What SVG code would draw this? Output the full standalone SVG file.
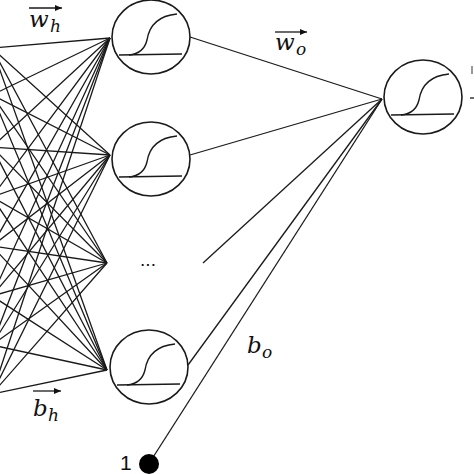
<svg xmlns="http://www.w3.org/2000/svg" width="474" height="474" viewBox="0 0 474 474">
<style>
.ln{stroke:#1a1a1a;stroke-width:1.3;fill:none}
.nd{stroke:#1a1a1a;stroke-width:1.6;fill:#fff}
.sg{stroke:#1a1a1a;stroke-width:1.4;fill:none}
.lb{font-family:"DejaVu Serif","Liberation Serif",serif;font-style:italic;fill:#111}
</style>
<defs>
<marker id="ah" markerWidth="8" markerHeight="8" refX="7" refY="4" orient="auto" markerUnits="userSpaceOnUse">
<path d="M0,1 L7,4 L0,7 Z" fill="#111"/>
</marker>
<g id="sig">
<path class="sg" d="M-32,18 L31,17"/>
<path class="sg" d="M-22,18 C-11,17 -6,11 -4,3 C-2,-10 5,-21 26,-23"/>
</g>
</defs>
<rect width="474" height="474" fill="#fff"/>
<g id="connectors">
<g class="ln">
<path d="M-8,48 L110,38 M-8,48 L110,155 M-8,48 L107,263 M-8,48 L107,370"/>
<path d="M-8,95 L110,38 M-8,95 L110,155 M-8,95 L107,263 M-8,95 L107,370"/>
<path d="M-8,147 L110,38 M-8,147 L110,155 M-8,147 L107,263 M-8,147 L107,370"/>
<path d="M-8,197 L110,38 M-8,197 L110,155 M-8,197 L107,263 M-8,197 L107,370"/>
<path d="M-8,246 L110,38 M-8,246 L110,155 M-8,246 L107,263 M-8,246 L107,370"/>
<path d="M-8,296 L110,38 M-8,296 L110,155 M-8,296 L107,263 M-8,296 L107,370"/>
<path d="M-8,345 L110,38 M-8,345 L110,155 M-8,345 L107,263 M-8,345 L107,370"/>
<path d="M-8,394 L110,38 M-8,394 L110,155 M-8,394 L107,263 M-8,394 L107,370"/>
</g>
<path class="ln" d="M190,37 L382,99"/>
<path class="ln" d="M190,155 L382,99"/>
<path class="ln" d="M203,263 L382,99"/>
<path class="ln" d="M188,365 L382,99"/>
<path class="ln" d="M150,462 L382,99"/>
<path class="ln" d="M470,98 L474,98"/>
<path d="M472,66 L472,74" stroke="#999" stroke-width="2"/>
</g>
<g id="hidden1"><ellipse class="nd" cx="151" cy="37" rx="39" ry="37"/><use href="#sig" x="151" y="37"/></g>
<g id="hidden2"><ellipse class="nd" cx="151" cy="159" rx="39" ry="37"/><use href="#sig" x="151" y="159"/></g>
<g id="hidden3"><text x="148" y="266" font-family="Liberation Sans,Arial,sans-serif" font-size="19" text-anchor="middle" fill="#111">...</text></g>
<g id="hidden4"><ellipse class="nd" cx="149" cy="367" rx="39" ry="37"/><use href="#sig" x="149" y="367"/></g>
<g id="output"><ellipse class="nd" cx="423" cy="97" rx="39" ry="37"/><use href="#sig" x="423" y="97"/></g>
<g id="bias">
<circle cx="149" cy="464" r="10" fill="#000"/>
<text x="120" y="470" font-family="Liberation Sans,Arial,sans-serif" font-size="21" fill="#111">1</text>
</g>
<g id="labels">
<text class="lb" x="29" y="27" font-size="23">w</text><text class="lb" x="50" y="32" font-size="17">h</text>
<path class="ln" d="M29,8 L62,8" marker-end="url(#ah)" stroke-width="1.5"/>
<text class="lb" x="275" y="50" font-size="23">w</text><text class="lb" x="296" y="55" font-size="17">o</text>
<path class="ln" d="M275,32 L307,32" marker-end="url(#ah)" stroke-width="1.5"/>
<text class="lb" x="33" y="416" font-size="23">b</text><text class="lb" x="48" y="421" font-size="17">h</text>
<path class="ln" d="M33,391 L61,391" marker-end="url(#ah)" stroke-width="1.5"/>
<text class="lb" x="247" y="353" font-size="23">b</text><text class="lb" x="262" y="358" font-size="17">o</text>
</g>
</svg>
